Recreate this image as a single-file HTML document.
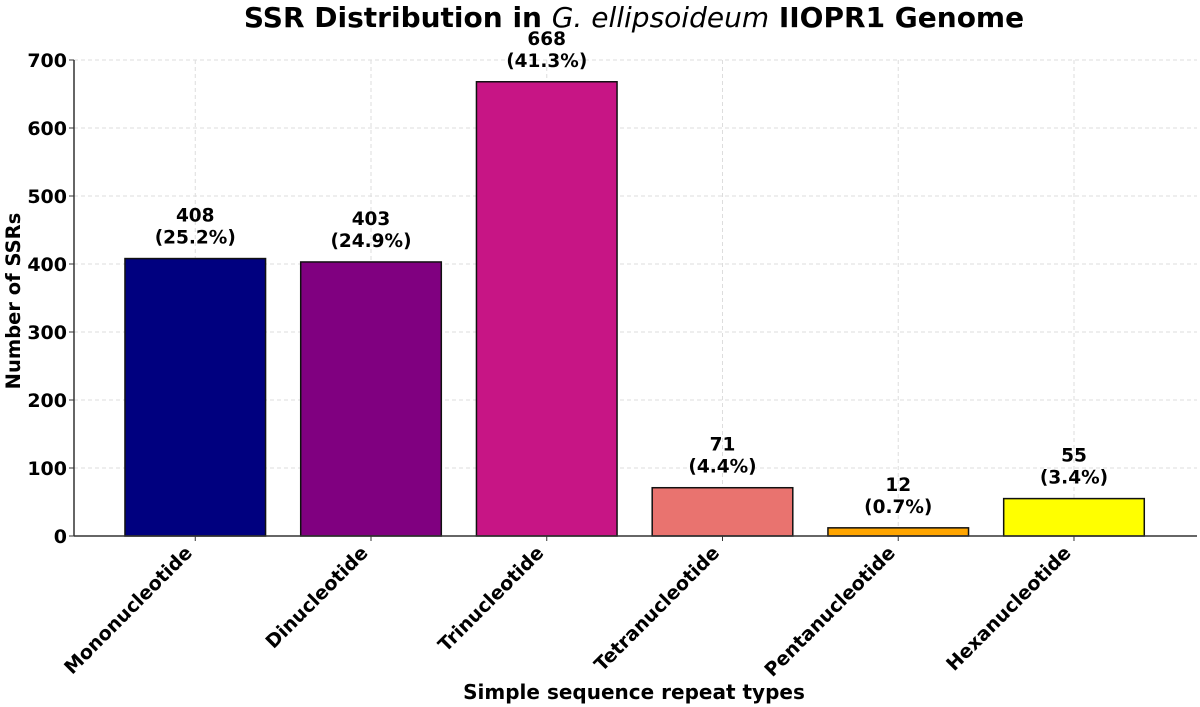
<!DOCTYPE html>
<html><head><meta charset="utf-8"><style>
body{margin:0;background:#fff}
svg{display:block;font-family:"DejaVu Sans","Liberation Sans",sans-serif;font-weight:bold}
</style></head><body>
<svg id="chart" width="1200" height="707" viewBox="0 0 1200 707">
<text x="634" y="27" text-anchor="middle" font-size="28">SSR Distribution in <tspan font-style="italic" font-weight="normal">G. ellipsoideum</tspan> IIOPR1 Genome</text>
<g id="grid"></g><g id="bars"></g><g id="labels"></g><g id="axes"></g>
<text x="0" y="0" transform="translate(20,301) rotate(-90)" text-anchor="middle" font-size="19.5">Number of SSRs</text>
<text x="634" y="699" text-anchor="middle" font-size="20">Simple sequence repeat types</text>
</svg>
<script>
const categories=["Mononucleotide","Dinucleotide","Trinucleotide","Tetranucleotide","Pentanucleotide","Hexanucleotide"];
const counts=[408,403,668,71,12,55];
const percents=["25.2%","24.9%","41.3%","4.4%","0.7%","3.4%"];
const colors=["#00007f","#800080","#c71585","#e9736f","#ffa500","#ffff00"];
const yTicks=[0,100,200,300,400,500,600,700];
const NS="http://www.w3.org/2000/svg";
const x0=74,x1=1197,y0=536,yTop=60,xmin=-0.69,xmax=5.7;
const xs=i=>x0+(i-xmin)/(xmax-xmin)*(x1-x0);
const ys=v=>y0-(v/700)*(y0-yTop);
const bw=0.8*(x1-x0)/(xmax-xmin);
function mk(t,a,p){const e=document.createElementNS(NS,t);for(const k in a)e.setAttribute(k,a[k]);p.appendChild(e);return e;}
const grid=document.getElementById('grid'),bars=document.getElementById('bars'),labels=document.getElementById('labels'),axes=document.getElementById('axes');
yTicks.forEach(v=>{
 const l=mk('line',{x1:x0,x2:x1,y1:ys(v),y2:ys(v),stroke:'#ddd','stroke-dasharray':'4,3'},grid);
 
 
 mk('line',{x1:x0-5,x2:x0,y1:ys(v),y2:ys(v),stroke:'#333'},axes);
 const t=mk('text',{x:x0-7,y:ys(v)+7,'text-anchor':'end','font-size':19},axes);t.textContent=v;
 
 
});
categories.forEach((c,i)=>{
 const cx=xs(i);
 const g=mk('line',{x1:cx,x2:cx,y1:yTop,y2:y0,stroke:'#ddd','stroke-dasharray':'4,3'},grid);
 
 
 const r=mk('rect',{x:cx-bw/2,y:ys(counts[i]),width:bw,height:y0-ys(counts[i]),fill:colors[i],stroke:'#111','stroke-width':1.5},bars);
 
 
 const t1=mk('text',{x:cx,y:ys(counts[i])-37,'text-anchor':'middle','font-size':18.5},labels);t1.textContent=counts[i];
 
 
 const t2=mk('text',{x:cx,y:ys(counts[i])-15,'text-anchor':'middle','font-size':18.5},labels);t2.textContent='('+percents[i]+')';
 
 
 mk('line',{x1:cx,x2:cx,y1:y0,y2:y0+5,stroke:'#333'},axes);
 const tl=mk('text',{x:0,y:0,'text-anchor':'end','font-size':19,transform:`translate(${cx-2},${y0+18}) rotate(-45)`},axes);tl.textContent=c;
 
 
});
mk('line',{x1:x0,x2:x0,y1:yTop,y2:y0,stroke:'#333','stroke-width':1.5},axes);
mk('line',{x1:x0,x2:x1,y1:y0,y2:y0,stroke:'#333','stroke-width':1.5},axes);
</script>
</body></html>
